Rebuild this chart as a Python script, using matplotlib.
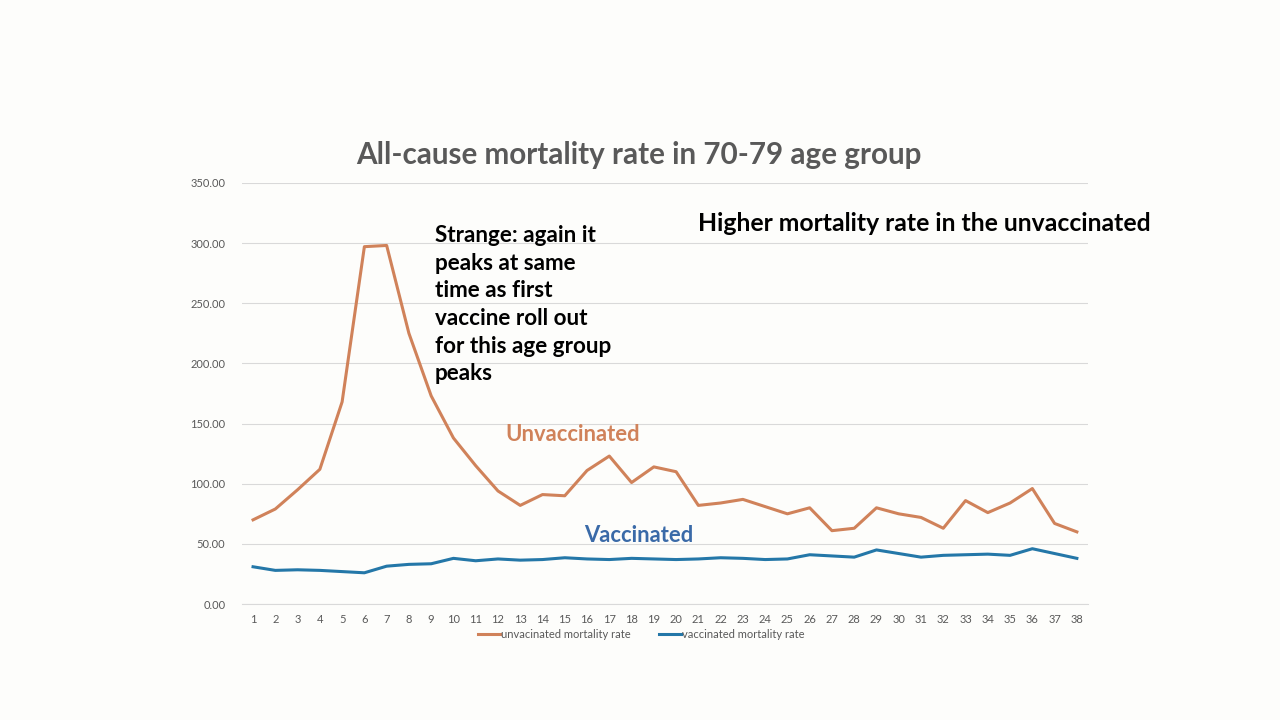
import matplotlib.pyplot as plt
import numpy as np

plt.rcParams['font.family'] = ['Lato', 'DejaVu Sans']

# weeks 1..38
weeks = np.arange(1, 39)
unvax = [70, 79, 95, 112, 168, 297, 298, 225, 173, 138,
         115, 94, 82, 91, 90, 111, 123, 101, 114, 110,
         82, 84, 87, 81, 75, 80, 61, 63, 80, 75,
         72, 63, 86, 76, 84, 96, 67, 60]
vax = [31, 28, 28.5, 28, 27, 26, 31.5, 33, 33.5, 38,
       36, 37.5, 36.5, 37, 38.5, 37.5, 37, 38, 37.5, 37,
       37.5, 38.5, 38, 37, 37.5, 41, 40, 39, 45, 42,
       39, 40.5, 41, 41.5, 40.5, 46, 42, 38]
yticks = [0, 50, 100, 150, 200, 250, 300, 350]

orange = '#d0825a'
blue = '#2477a8'

fig = plt.figure(figsize=(12.8, 7.2), dpi=100)
fig.patch.set_facecolor('#fdfdfb')
ax = fig.add_axes([0.189, 0.161, 0.661, 0.585])
ax.set_facecolor('#fdfdfb')

l1, = ax.plot(weeks, unvax, color=orange, linewidth=2.2, label='unvacinated mortality rate')
l2, = ax.plot(weeks, vax, color=blue, linewidth=2.2, label='vaccinated mortality rate')

ax.set_xlim(0.5, 38.5)
ax.set_ylim(0, 350)
ax.set_yticks(yticks)
ax.set_yticklabels(['%.2f' % v for v in yticks])
ax.set_xticks(weeks)
ax.grid(axis='y', color='#d9d9d9', linewidth=0.8)
ax.set_axisbelow(True)
for s in ['top', 'right', 'left']:
    ax.spines[s].set_visible(False)
ax.spines['bottom'].set_color('#d9d9d9')
ax.tick_params(axis='both', length=0, labelsize=8, colors='#595959')
ax.tick_params(axis='y', pad=12)
ax.tick_params(axis='x', pad=7.5)

fig.text(0.499, 0.785, 'All-cause mortality rate in 70-79 age group', ha='center', va='center',
         fontsize=21.3, fontweight='bold', color='#595959')

ax.legend(handles=[l1, l2], loc='upper center', bbox_to_anchor=(0.472, -0.035), ncol=2,
          frameon=False, fontsize=8, labelcolor='#595959', handlelength=2.0,
          handletextpad=0.1, columnspacing=2.5)

ax.text(9.16, 315, 'Strange: again it\npeaks at same\ntime as first\nvaccine roll out\nfor this age group\npeaks',
        fontsize=16.2, fontweight='bold', color='black', va='top', ha='left', linespacing=1.39)
ax.text(21.0, 316, 'Higher mortality rate in the unvaccinated', fontsize=17.85, fontweight='bold',
        color='black', va='center', ha='left')
ax.text(12.35, 141, 'Unvaccinated', fontsize=15.8, fontweight='bold', color=orange, va='center')
ax.text(15.88, 57, 'Vaccinated', fontsize=15.8, fontweight='bold', color='#3a6aa8', va='center')

plt.savefig('out.png', dpi=100, facecolor=fig.get_facecolor())
